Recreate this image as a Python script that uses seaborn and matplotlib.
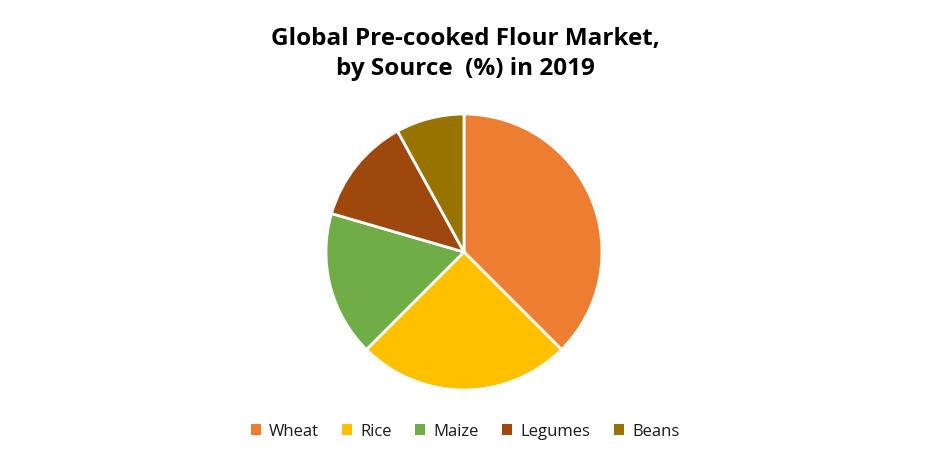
import matplotlib
matplotlib.use("Agg")
import matplotlib.pyplot as plt
import seaborn as sns
from matplotlib.patches import Patch

# data
sources = ["Wheat", "Rice", "Maize", "Legumes", "Beans"]
shares = [37.5, 25.0, 17.0, 12.5, 8.0]
colors = ["#ED7D31", "#FFC000", "#70AD47", "#9E480E", "#997300"]

sns.set_style("white")
plt.rcParams["font.family"] = ["Open Sans", "DejaVu Sans"]

palette = sns.color_palette(colors)

fig = plt.figure(figsize=(9.3, 4.63), dpi=100)
ax = fig.add_axes([0.3505, 0.1577, 0.2968, 0.596])
ax.pie(shares, colors=palette, startangle=90, counterclock=False,
       wedgeprops={"edgecolor": "white", "linewidth": 2})
ax.set_xlim(-1, 1)
ax.set_ylim(-1, 1)
ax.set_aspect("equal")
ax.axis("off")

fig.text(0.5, 0.883, "Global Pre-cooked Flour Market,\nby Source  (%) in 2019",
         ha="center", va="center", fontsize=17.5, fontweight="bold",
         linespacing=1.3, color="black")

handles = [Patch(facecolor=c, edgecolor="none") for c in palette]
fig.legend(handles, sources, loc="center", bbox_to_anchor=(0.5, 0.068),
           ncol=5, frameon=False, fontsize=12, handlelength=0.6,
           handleheight=0.6, handletextpad=0.5, columnspacing=1.4,
           labelcolor="#1a1a1a")

fig.savefig("out.png", dpi=100)
